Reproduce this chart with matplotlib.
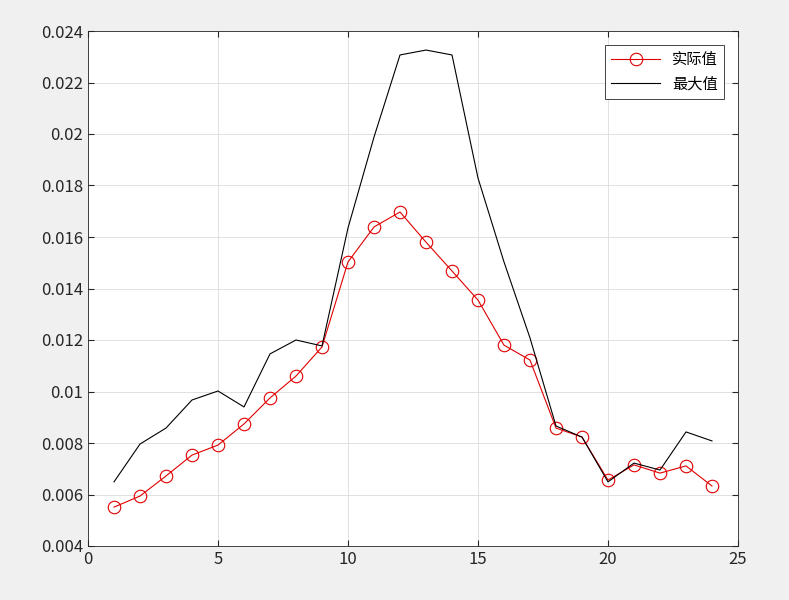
import matplotlib
matplotlib.use('Agg')
import matplotlib.pyplot as plt

plt.rcParams['font.family'] = ['Noto Sans CJK SC', 'DejaVu Sans']

x = list(range(1, 25))
actual = [0.00551, 0.00594, 0.00672, 0.00753, 0.00792, 0.00874, 0.00975, 0.0106, 0.01173,
          0.01503, 0.01639, 0.01697, 0.0158, 0.01468, 0.01355, 0.0118, 0.01122, 0.00858,
          0.00823, 0.00656, 0.00715, 0.00683, 0.00711, 0.00633]
maxv = [0.00649, 0.00796, 0.00858, 0.00967, 0.01002, 0.0094, 0.01146, 0.0120, 0.01177,
        0.01635, 0.01988, 0.02307, 0.02326, 0.02307, 0.01829, 0.01503, 0.01208, 0.00866,
        0.00823, 0.00649, 0.00722, 0.00695, 0.00843, 0.00808]

fig = plt.figure(figsize=(7.89, 6.0), dpi=100, facecolor='#f0f0f0')
ax = fig.add_axes([88/789, 1-546/600, 650/789, 515/600])
ax.plot(x, actual, color='#e00000', lw=0.8, marker='o', ms=9, mfc='none', mec='#e00000', mew=0.8, label='实际值')
ax.plot(x, maxv, color='black', lw=0.8, label='最大值')
ax.set_xlim(0, 25)
ax.set_ylim(0.004, 0.024)
ax.set_xticks([0, 5, 10, 15, 20, 25])
ax.set_yticks([0.004 + 0.002*i for i in range(11)])
ax.set_yticklabels(['0.004', '0.006', '0.008', '0.01', '0.012', '0.014', '0.016', '0.018', '0.02', '0.022', '0.024'])
ax.grid(True, color='#dcdcdc', lw=0.6)
ax.tick_params(labelsize=12, direction='in', colors='#262626', length=4)
for s in ax.spines.values():
    s.set_color('#262626'); s.set_linewidth(0.6)
ax.tick_params(top=True, right=True)
leg = ax.legend(loc='upper right', fontsize=11, fancybox=False, framealpha=1, edgecolor='#262626',
                borderaxespad=0.9, handlelength=3.2)
leg.get_frame().set_linewidth(0.6)
fig.savefig('out.png', dpi=100, facecolor='#f0f0f0')
